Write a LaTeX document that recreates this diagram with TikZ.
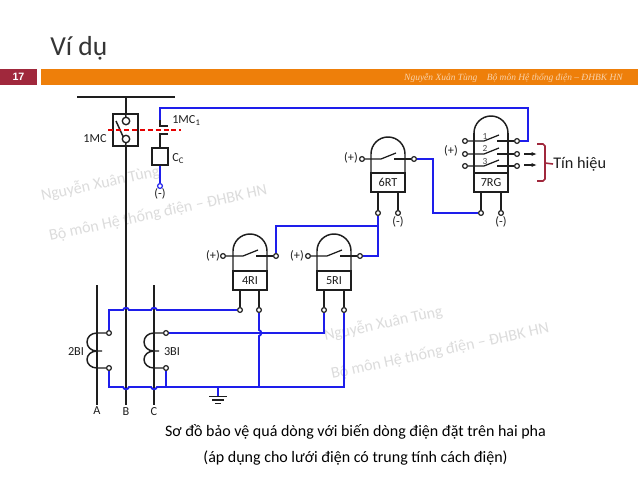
\documentclass[tikz,border=0pt]{standalone}
\usetikzlibrary{arrows.meta}
\usepackage{fontspec}
\setmainfont{Carlito}
\newfontfamily\footfont{Liberation Serif}
\newfontfamily\numfont{Liberation Sans}
\definecolor{wireblue}{RGB}{30,30,235}
\definecolor{barorange}{RGB}{238,127,10}
\definecolor{barred}{RGB}{160,40,60}
\definecolor{ink}{RGB}{30,30,30}
\definecolor{wmgray}{RGB}{220,220,220}
\newcommand{\fsz}[1]{\fontsize{#1}{#1}\selectfont}
\newcommand{\subs}[1]{\raisebox{-1.5pt}{\fsz{6.5}#1}}
\tikzset{
  x=0.75pt,y=-0.75pt,
  blk/.style={draw=ink,line width=1.1pt},
  thin blk/.style={draw=ink,line width=0.95pt},
  wire/.style={draw=wireblue,line width=1.4pt},
  term/.style={circle,draw=ink,fill=white,line width=0.9pt,inner sep=0pt,minimum size=3.6pt},
  bterm/.style={term,draw=wireblue},
  big term/.style={circle,draw=ink,fill=white,line width=1pt,inner sep=0pt,minimum size=5.6pt},
  lab/.style={inner sep=0pt,text=ink,font=\fsz{9.2}},
  tiny lab/.style={inner sep=0pt,text=ink!80,font=\fsz{7}},
  relaybox/.style={draw=ink,line width=1.1pt,inner sep=0pt,minimum width=25.5pt,minimum height=14.25pt,text=ink,font=\fsz{9.2}},
  wm/.style={inner sep=0pt,text=wmgray,rotate=12,font=\fsz{12},anchor=base west},
}
\newcommand{\dome}[2]{% centre x, top y
  \draw[blk] ({#1-17},{#2+37}) -- ({#1-17},{#2+17}) .. controls ({#1-17},{#2+7.6}) and ({#1-9.4},#2) .. (#1,#2)
     .. controls ({#1+9.4},#2) and ({#1+17},{#2+7.6}) .. ({#1+17},{#2+17}) -- ({#1+17},{#2+37});
}
\newcommand{\contact}[5]{% name, left x, right x, centre x, y
  \node[term] (#1l) at (#2,#5) {};
  \node[term] (#1r) at (#3,#5) {};
  \coordinate (#1a) at ({#4-7},#5);
  \coordinate (#1b) at ({#4+8},{#5-6});
  \coordinate (#1c) at ({#4+6},#5);
  \draw[thin blk] (#1l) -- (#1a) -- (#1b);
  \draw[thin blk] (#1c) -- (#1r);
}
\begin{document}
\begin{tikzpicture}
\useasboundingbox[fill=white] (0,0) rectangle (638,493);
% header
\node[inner sep=0pt,anchor=base west,text=ink!90,font=\fsz{20.6}] (title) at (50,55) {Ví dụ};
\fill[barred] (0,69) rectangle (37,85);
\fill[barorange] (41,69) rectangle (638,85);
\node[inner sep=0pt,text=white,font=\numfont\bfseries\fsz{8}] (num) at (18.5,76.5) {17};
\node[inner sep=0pt,anchor=base east,text=white!65!barorange,font=\footfont\itshape\fsz{7.1}] (foot) at (623,80) {Nguyễn Xuân Tùng\quad Bộ môn Hệ thống điện – ĐHBK HN};
% watermarks
\node[wm] (w1) at (42,201) {Nguyễn Xuân Tùng};
\node[wm] (w2) at (50,241) {Bộ môn Hệ thống điện – ĐHBK HN};
\node[wm] (w3) at (325,341) {Nguyễn Xuân Tùng};
\node[wm] (w4) at (332,379) {Bộ môn Hệ thống điện – ĐHBK HN};
% bus and breaker
\coordinate (busl) at (77,97);
\coordinate (busr) at (175,97);
\coordinate (bustap) at (126,97);
\coordinate (Bend) at (126,405);
\coordinate (Atop) at (97,285);
\coordinate (Aend) at (97,405);
\coordinate (Ctop) at (154,285);
\coordinate (Cend) at (154,405);
\draw[blk] (busl) -- (busr);
\draw[blk,line width=1.3pt] (bustap) -- (Bend);
\draw[blk] (Atop) -- (Aend);
\draw[blk] (Ctop) -- (Cend);
\node[draw=ink,line width=1.1pt,fill=white,inner sep=0pt,minimum width=18.75pt,minimum height=24pt] (mc) at (125.5,130) {};
\draw[blk] (mc.north) -- (126,118);
\draw[blk] (116,121) -- (126,143);
\draw[blk] (126,142) -- (mc.south);
\node[big term] (mc1) at (126,121) {};
\node[big term] (mc2) at (126,139) {};
\node[lab] (mclab) at (95,139) {1MC};
\coordinate (rl) at (108,130);
\coordinate (rr) at (181,130);
\draw[draw=red!90!black,line width=1.1pt,dash pattern=on 3.75pt off 2.2pt] (rl) -- (rr);
% auxiliary contact and coil
\node[draw=ink,line width=1.1pt,inner sep=0pt,minimum width=12pt,minimum height=12.75pt] (cc) at (160,156.5) {};
\coordinate (auxtop) at (160,120);
\coordinate (auxtopr) at (168,126);
\coordinate (auxbot) at (168,134);
\node[bterm] (minus0) at (160,186) {};
\draw[thin blk] (auxtop) |- (auxtopr);
\draw[thin blk] (auxbot) -| (cc.north);
\draw[wire] (cc.south) -- (minus0);
\node[lab,anchor=west] (mc1lab) at (172,121) {1MC\subs{1}};
\node[lab,anchor=west] (cclab) at (172,159) {C\subs{C}};
\node[lab] (m0) at (160,193.5) {(-)};
% relays
\dome{250}{234}
\node[relaybox] (r4) at (250,280.5) {4RI};
\contact{c4}{223}{276}{250}{256}
\dome{334}{234}
\node[relaybox] (r5) at (334,280.5) {5RI};
\contact{c5}{308}{360}{334}{256}
\dome{388}{137}
\node[relaybox] (r6) at (388,182.5) {6RT};
\contact{c6}{362}{414}{388}{159}
\dome{491}{116}
\draw[blk] (474,133) -- (474,173);
\draw[blk] (508,133) -- (508,173);
\node[relaybox] (r7) at (491,182.5) {7RG};
\contact{c71}{465}{517}{491}{141}
\contact{c72}{465}{517}{491}{154}
\contact{c73}{465}{517}{491}{166}
\node[tiny lab] (n1) at (485,136) {1};
\node[tiny lab] (n2) at (485,148) {2};
\node[tiny lab] (n3) at (485,161) {3};
\node[lab] (p4) at (213,256) {(+)};
\node[lab] (p5) at (297,256) {(+)};
\node[lab] (p6) at (351,158) {(+)};
\node[lab] (p7) at (451,151) {(+)};
% relay legs
\node[term] (l4a) at (240,310) {};
\node[term] (l4b) at (259,310) {};
\node[term] (l5a) at (324,310) {};
\node[term] (l5b) at (344,310) {};
\node[term] (l6a) at (378,213) {};
\node[term] (l6b) at (398,213) {};
\node[term] (l7a) at (481,213) {};
\node[term] (l7b) at (501,213) {};
\foreach \a/\xx/\yy in {l4a/240/290,l4b/259/290,l5a/324/290,l5b/344/290,l6a/378/192,l6b/398/192,l7a/481/192,l7b/501/192}{
  \draw[blk] (\xx,\yy) -- (\a);
}
\node[lab] (m6) at (398,221.5) {(-)};
\node[lab] (m7) at (501,222) {(-)};
% current transformers
\node[term] (t2a) at (109,333) {};
\node[term] (t2b) at (109,368) {};
\node[term] (t3a) at (166,333) {};
\node[term] (t3b) at (166,368) {};
\foreach \n/\xx in {t2/97,t3/154}{
  \draw[blk] (\n a) -- (\xx,333) .. controls ({\xx-6},333) and ({\xx-10},337) .. ({\xx-10},342)
    .. controls ({\xx-10},347) and ({\xx-6},351) .. (\xx,351) -- ({\xx+5},351);
  \draw[blk] (\n b) -- (\xx,368) .. controls ({\xx-6},368) and ({\xx-10},364) .. ({\xx-10},359.5)
    .. controls ({\xx-10},355) and ({\xx-6},351) .. (\xx,351);
}
\node[lab] (l2) at (76,352) {2BI};
\node[lab] (l3) at (172,352) {3BI};
\node[lab] (la) at (97,410.5) {A};
\node[lab] (lb) at (126,412) {B};
\node[lab] (lc) at (154,412) {C};
% ground
\coordinate (gnd) at (218,387);
\coordinate (gnd1) at (218,396.5);
\draw[wire,line width=1pt] (gnd) -- (gnd1);
\draw[blk] (209,396.5) -- (227,396.5);
\draw[blk] (212,400) -- (224,400);
\draw[blk] (215,403.5) -- (221,403.5);
% blue wiring
\coordinate (c2) at (433,159);
\coordinate (c3) at (433,213);
\coordinate (top) at (160,108);
\coordinate (topr) at (528,108);
\coordinate (ret) at (528,141);
\coordinate (j6) at (378,226);
\coordinate (j4) at (276,226);
\coordinate (j5) at (378,256);
\draw[wire] (auxtop) -- (top) -- (topr) -- (ret) -- (c71r);
\draw[wire] (c6r) -- (c2) -- (c3) -- (l7a);
\draw[wire] (c4r) -- (j4) -- (j6);
\draw[wire] (c5r) -- (j5) -- (l6a);
\draw[wire] (t2a) -- (109,310) -- (123,310) .. controls (124,307) and (128,307) .. (129,310) -- (151,310) .. controls (152,307) and (156,307) .. (157,310) -- (l4a);
\draw[wire] (t2b) -- (109,387) -- (123,387) .. controls (124,390) and (128,390) .. (129,387) -- (151,387) .. controls (152,390) and (156,390) .. (157,387) -- (344,387) -- (l5b);
\draw[wire] (t3b) -- (166,387);
\draw[wire] (t3a) -- (324,333) -- (l5a);
\draw[wire] (l4b) -- (259,330) .. controls (262,331) and (262,335) .. (259,336) -- (259,387);
% signal arrows and bracket
\coordinate (a1s) at (524,154);
\coordinate (a1e) at (537,154);
\coordinate (a2s) at (524,165);
\coordinate (a2e) at (537,165);
\draw[blk,line width=0.9pt,-{Latex[length=4pt,width=3pt]}] (a1s) -- (a1e);
\draw[blk,line width=0.9pt,-{Latex[length=4pt,width=3pt]}] (a2s) -- (a2e);
\node[inner sep=0pt,anchor=west,text=ink,font=\fsz{12.2}] (sig) at (553,164) {Tín hiệu};
\coordinate (b1) at (537,144);
\coordinate (b2) at (545,146);
\coordinate (b3) at (545,179);
\coordinate (b4) at (537,181);
\coordinate (b5) at (545,163);
\draw[draw=barred,line width=1.2pt] (b1) -- (543,144) -- (b2) -- (b3) -- (543,181) -- (b4);
\draw[draw=barred,line width=1.2pt] (b5) -- (sig.west);
% caption
\node[inner sep=0pt,anchor=base,text=black,font=\fsz{12}] (cap1) at (355.5,436) {Sơ đồ bảo vệ quá dòng với biến dòng điện đặt trên hai pha};
\node[inner sep=0pt,anchor=base,text=black,font=\fsz{12}] (cap2) at (355.5,462) {(áp dụng cho lưới điện có trung tính cách điện)};
\end{tikzpicture}
\end{document}
